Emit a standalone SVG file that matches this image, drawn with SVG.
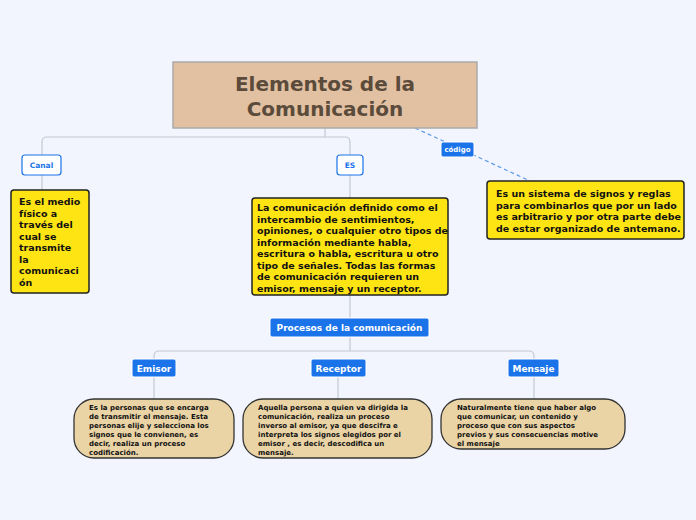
<svg xmlns="http://www.w3.org/2000/svg" width="696" height="520" viewBox="0 0 696 520">
<defs><style>
.t{font-family:"DejaVu Sans",Verdana,sans-serif;font-weight:bold}
.y{fill:#ffe414;stroke:#222;stroke-width:1.5}
.b{fill:#fff;stroke:#1a73e8;stroke-width:1.2}
.bf{fill:#1a73e8;stroke:#fff;stroke-width:1}
.s{fill:#ead4a6;stroke:#333;stroke-width:1.3}
.l{fill:none;stroke:#c4c8d0;stroke-width:1.2}
</style></defs>
<rect width="696" height="520" fill="#f2f5fd"/>
<g id="connectors">
<path class="l" d="M325 128V137M42 155V142Q42 137 47 137H345Q350 137 350 142V155M42 175V190M350 175V198M350 295V318M350 337V351M154 359V356Q154 351 159 351H529Q534 351 534 356V359M154 377V399M338 377V399M534 377V399"/>
<path d="M415 128L530 181" stroke="#5a9ce8" stroke-width="1.2" stroke-dasharray="4,3" fill="none"/>
</g>
<g id="title"><rect x="173" y="62" width="304" height="66" fill="#e2c0a2" stroke="#aaa" stroke-width="1.5"/>
<text class="t" x="325" y="91" text-anchor="middle" font-size="20" fill="#5b4b3b">Elementos de la</text>
<text class="t" x="325" y="116" text-anchor="middle" font-size="20" fill="#5b4b3b">Comunicación</text></g>
<g id="codigo"><rect class="bf" x="441" y="142" width="33" height="15" rx="2"/><text class="t" x="457.5" y="152" text-anchor="middle" font-size="7" fill="#fff" font-weight="normal">código</text></g>
<g id="canal"><rect class="b" x="22" y="155" width="39" height="20" rx="3"/><text class="t" x="41.5" y="168" text-anchor="middle" font-size="7.5" fill="#1a73e8">Canal</text></g>
<g id="es"><rect class="b" x="337" y="155" width="26" height="20" rx="3"/><text class="t" x="350" y="168" text-anchor="middle" font-size="7.5" fill="#1a73e8">ES</text></g>
<g id="canal-def"><rect class="y" x="11" y="190" width="78" height="103" rx="3"/>
<text class="t" font-size="9.5" fill="#111"><tspan x="19" y="205">Es el medio</tspan><tspan x="19" y="216.5">físico a</tspan><tspan x="19" y="228">través del</tspan><tspan x="19" y="239.5">cual se</tspan><tspan x="19" y="251">transmite</tspan><tspan x="19" y="262.5">la</tspan><tspan x="19" y="274">comunicaci</tspan><tspan x="19" y="285.5">ón</tspan></text></g>
<g id="es-def"><rect class="y" x="252" y="198" width="196" height="97" rx="3"/>
<text class="t" font-size="9.5" fill="#111"><tspan x="257" y="211">La comunicación definido como el</tspan><tspan x="257" y="222.5">intercambio de sentimientos,</tspan><tspan x="257" y="234">opiniones, o cualquier otro tipos de</tspan><tspan x="257" y="245.5">información mediante habla,</tspan><tspan x="257" y="257">escritura o habla, escritura u otro</tspan><tspan x="257" y="268.5">tipo de señales. Todas las formas</tspan><tspan x="257" y="280">de comunicación requieren un</tspan><tspan x="257" y="291.5">emisor, mensaje y un receptor.</tspan></text></g>
<g id="codigo-def"><rect class="y" x="487" y="181" width="197" height="58" rx="3"/>
<text class="t" font-size="9.5" fill="#111"><tspan x="496" y="197">Es un sistema de signos y reglas</tspan><tspan x="496" y="208.5">para combinarlos que por un lado</tspan><tspan x="496" y="220">es arbitrario y por otra parte debe</tspan><tspan x="496" y="231.5">de estar organizado de antemano.</tspan></text></g>
<g id="procesos"><rect class="bf" x="270" y="318" width="159" height="19" rx="2"/><text class="t" x="349.5" y="331" text-anchor="middle" font-size="9" fill="#fff">Procesos de la comunicación</text></g>
<g id="emisor"><rect class="bf" x="132" y="359" width="44" height="18" rx="2"/><text class="t" x="154" y="371.5" text-anchor="middle" font-size="9" fill="#fff">Emisor</text></g>
<g id="receptor"><rect class="bf" x="311" y="359" width="55" height="18" rx="2"/><text class="t" x="338.5" y="371.5" text-anchor="middle" font-size="9" fill="#fff">Receptor</text></g>
<g id="mensaje"><rect class="bf" x="508" y="359" width="51" height="18" rx="2"/><text class="t" x="533.5" y="371.5" text-anchor="middle" font-size="9" fill="#fff">Mensaje</text></g>
<g id="emisor-def"><rect class="s" x="74" y="399" width="160" height="59" rx="20"/>
<text class="t" font-size="7" fill="#111"><tspan x="89" y="410">Es la personas que se encarga</tspan><tspan x="89" y="419">de transmitir el mensaje. Esta</tspan><tspan x="89" y="428">personas elije y selecciona los</tspan><tspan x="89" y="437">signos que le convienen, es</tspan><tspan x="89" y="446">decir, realiza un proceso</tspan><tspan x="89" y="455">codificación.</tspan></text></g>
<g id="receptor-def"><rect class="s" x="243" y="399" width="189" height="59" rx="20"/>
<text class="t" font-size="7" fill="#111"><tspan x="258" y="410">Aquella persona a quien va dirigida la</tspan><tspan x="258" y="419">comunicación, realiza un proceso</tspan><tspan x="258" y="428">inverso al emisor, ya que descifra e</tspan><tspan x="258" y="437">interpreta los signos elegidos por el</tspan><tspan x="258" y="446">emisor , es decir, descodifica un</tspan><tspan x="258" y="455">mensaje.</tspan></text></g>
<g id="mensaje-def"><rect class="s" x="441" y="399" width="184" height="50" rx="20"/>
<text class="t" font-size="7" fill="#111"><tspan x="457" y="410">Naturalmente tiene que haber algo</tspan><tspan x="457" y="419">que comunicar, un contenido y</tspan><tspan x="457" y="428">proceso que con sus aspectos</tspan><tspan x="457" y="437">previos y sus consecuencias motive</tspan><tspan x="457" y="446">el mensaje</tspan></text></g>
</svg>
